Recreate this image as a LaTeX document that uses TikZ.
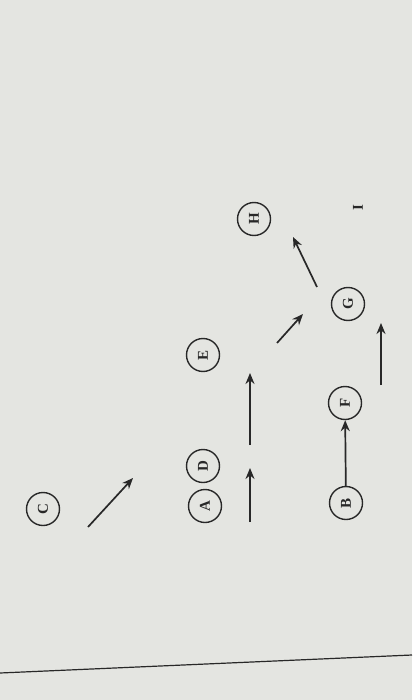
\documentclass[tikz,border=0pt]{standalone}
\usepackage{fontspec}
\setmainfont{Liberation Serif}
\usetikzlibrary{arrows.meta}
\definecolor{paper}{RGB}{228,229,225}
\definecolor{ink}{RGB}{40,40,40}
\begin{document}
\begin{tikzpicture}[x=1pt,y=-1pt,
 letter/.style={circle,draw=ink,line width=1.4pt,minimum size=33pt,inner sep=0pt,rotate=90,font=\fontsize{15}{15}\selectfont\bfseries,text=ink},
 plain/.style={inner sep=0pt,rotate=90,font=\fontsize{15}{15}\selectfont\bfseries,text=ink},
 arr/.style={draw=ink,line width=1.7pt,-{Stealth[length=11pt,width=9pt]}},
 rule/.style={draw=ink,line width=1.2pt}]
\fill[paper] (0,0) rectangle (412,700);
\useasboundingbox (0,0) rectangle (412,700);
\node[letter] (C) at (43,509) {C};
\node[letter] (A) at (205,506) {A};
\node[letter] (D) at (203,466) {D};
\node[letter] (E) at (203,355) {E};
\node[letter] (B) at (346,503) {B};
\node[letter] (F) at (345,403) {F};
\node[letter] (G) at (348,304) {G};
\node[letter] (H) at (254,219) {H};
\node[plain] (I) at (358,208) {I};
\coordinate (a1s) at (88,527); \coordinate (a1e) at (133,478);
\coordinate (a2s) at (250,522); \coordinate (a2e) at (250,468);
\coordinate (a3s) at (250,445); \coordinate (a3e) at (250,373);
\coordinate (a4s) at (277,343); \coordinate (a4e) at (303,314);
\coordinate (a5s) at (317,287); \coordinate (a5e) at (293,237);
\coordinate (a6s) at (381,385); \coordinate (a6e) at (381,323);
\coordinate (l1) at (0,673); \coordinate (l2) at (412,655);
\draw[arr] (a1s) -- (a1e);
\draw[arr] (a2s) -- (a2e);
\draw[arr] (a3s) -- (a3e);
\draw[arr] (B) -- (F);
\draw[arr] (a4s) -- (a4e);
\draw[arr] (a5s) -- (a5e);
\draw[arr] (a6s) -- (a6e);
\draw[rule] (l1) -- (l2);
\end{tikzpicture}
\end{document}
